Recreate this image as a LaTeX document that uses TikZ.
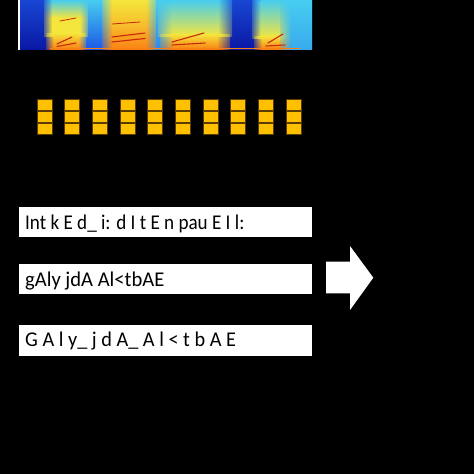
\documentclass[tikz,border=0pt]{standalone}
\usepackage{fontspec}
\setmainfont{Carlito}
\usetikzlibrary{fadings}
\begin{tikzfadingfrompicture}[name=plateau]
  \shade[left color=transparent!100, right color=transparent!0] (-1cm,-1cm) rectangle (-0.55cm,1cm);
  \fill[transparent!0] (-0.55cm,-1cm) rectangle (0.55cm,1cm);
  \shade[left color=transparent!0, right color=transparent!100] (0.55cm,-1cm) rectangle (1cm,1cm);
\end{tikzfadingfrompicture}
\begin{document}
\begin{tikzpicture}[x=1pt,y=-1pt,
  cell/.style={fill=gold,draw=cellline,line width=0.6pt},
  txtbox/.style={fill=white,draw=none,anchor=north west,minimum width=293.4pt,minimum height=30pt,inner sep=0pt},
  txt/.style={anchor=base west,inner sep=0pt,font=\fontsize{21}{25}\selectfont,text=black},
  seg/.style={draw=none,path fading=plateau,fit fading=true},
  band/.style={srd,line width=1.1pt,line cap=round}]
\definecolor{gold}{RGB}{255,192,0}
\definecolor{cellline}{RGB}{90,60,0}
\definecolor{sdb}{RGB}{10,25,165}
\definecolor{smb}{RGB}{30,90,230}
\definecolor{scy}{RGB}{70,205,240}
\definecolor{syl}{RGB}{245,230,60}
\definecolor{sor}{RGB}{250,130,20}
\definecolor{srd}{RGB}{200,40,10}
\useasboundingbox (0,0) rectangle (474,474);
\fill[black] (0,0) rectangle (474,474);
% spectrogram
\begin{scope}
\clip (20,0) rectangle (312,49);
\shade[top color=smb!70!sdb,bottom color=sdb] (20,0) rectangle (312,49);
\shade[seg,top color=scy,bottom color=smb] (70,0) rectangle (120,49);
\shade[seg,top color=scy,bottom color=smb!60!scy] (136,0) rectangle (178,49);
\shade[seg,top color=scy,bottom color=syl,middle color=syl] (44,0) rectangle (88,36);
\shade[seg,top color=syl,bottom color=sor] (46,33) rectangle (86,49);
\shade[seg,top color=syl,bottom color=sor,middle color=syl!60!sor] (102,0) rectangle (156,49);
\shade[seg,top color=scy,bottom color=syl] (158,0) rectangle (232,36);
\shade[seg,top color=syl,bottom color=sor] (160,34) rectangle (230,49);
\shade[seg,top color=scy,bottom color=syl] (252,0) rectangle (298,38);
\shade[seg,top color=syl,bottom color=sor] (254,36) rectangle (296,49);
\shade[seg,top color=scy,bottom color=scy!70!smb] (280,0) rectangle (340,49);
\draw[band] (57,44) -- (72,37);
\draw[band] (57,46.5) -- (76,43);
\draw[band,line width=0.8pt] (60,21) -- (76,18);
\draw[band] (112,37) -- (145,33);
\draw[band] (112,42) -- (145,38.5);
\draw[band,line width=0.8pt] (112,24) -- (140,22);
\draw[band] (172,42) -- (204,33);
\draw[band] (172,45) -- (205,43);
\draw[band] (268,43) -- (283,34);
\draw[band] (266,46) -- (285,45);
\fill[sor] (50,47.5) rectangle (300,49);
\end{scope}
\draw[white,line width=1.2pt] (19,0) -- (19,49.5);
% feature frames
\foreach \i in {0,...,9} {
  \foreach \j in {0,1,2} {
    \node[cell,minimum width=15pt,minimum height=11pt,inner sep=0pt,anchor=north west] (c\i\j) at ({36.7+27.67*\i},{99.3+12*\j}) {};
  }
}
% text boxes
\node[txtbox] (b1) at (18.3,206.7) {};
\node[txtbox] (b2) at (18.3,264) {};
\node[txtbox,minimum height=30.5pt] (b3) at (18.3,325) {};
\node[txt,xscale=0.91] (t1) at (25,229.3) {Int k E d\_ i: d I t E n pau E I l:};
\node[txt,xscale=0.98] (t2) at (25,286.3) {gAly jdA Al<tbAE};
\node[txt,xscale=0.965] (t3) at (25,346.7) {G A l y\_ j d A\_ A l < t b A E};
% arrow
\fill[white] (326,261.7) -- (350,261.7) -- (350,246) -- (373.3,277.7) -- (350,310) -- (350,293.3) -- (326,293.3) -- cycle;
\end{tikzpicture}
\end{document}
